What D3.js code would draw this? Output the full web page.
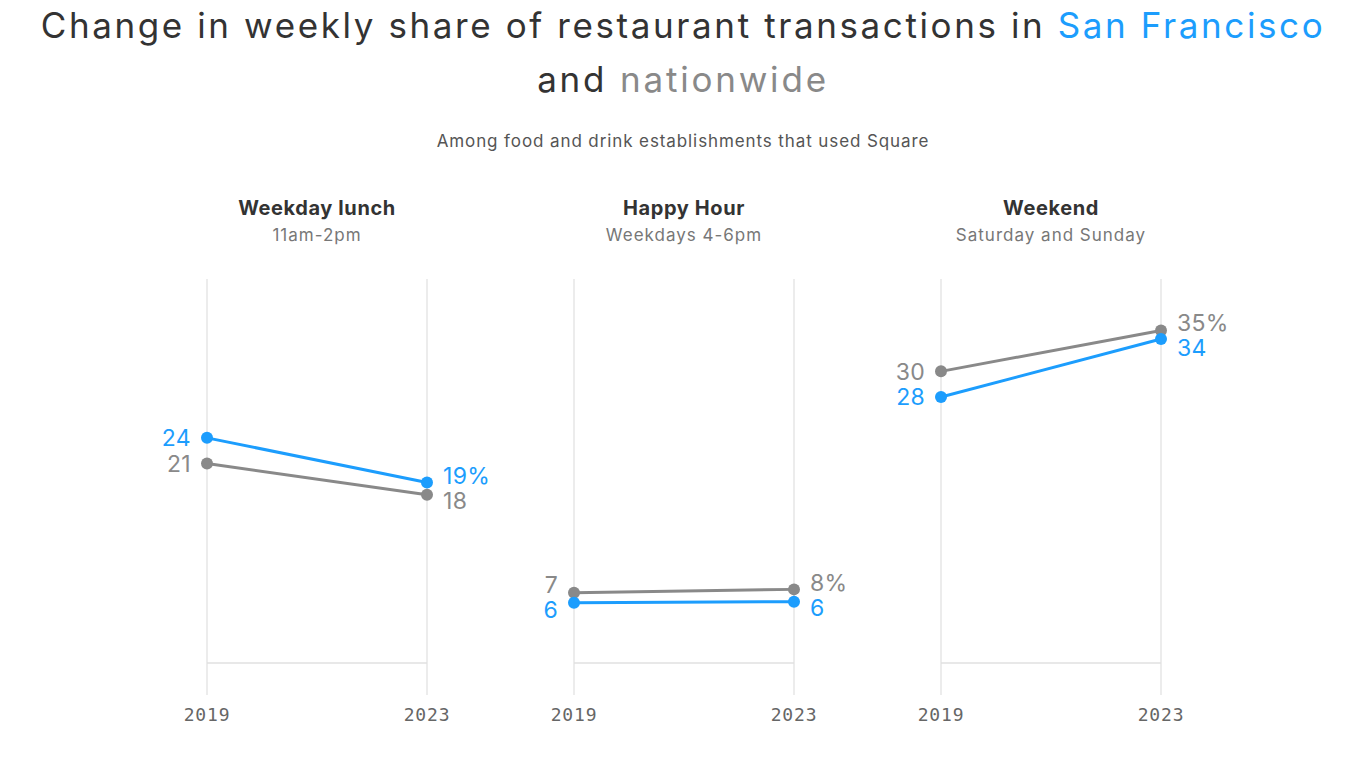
<!DOCTYPE html>
<html>
<head>
  <meta charset="utf-8">
  <title>Change in weekly share of restaurant transactions</title>
  <style>
    body { margin: 0; background: #fff; }
    svg text { font-family: Inter, "Noto Sans", sans-serif; }
  </style>
</head>
<body>
<script src="https://cdnjs.cloudflare.com/ajax/libs/d3/7.8.5/d3.min.js"></script>
<div id="vis"></div>
<script>

var panels = ["Weekday lunch", "Happy Hour", "Weekend"];
var panelNotes = ["11am-2pm", "Weekdays 4-6pm", "Saturday and Sunday"];
var years = ["2019", "2023"];

// share of weekly transactions, %
var sfValues = [[23.7, 19.0], [6.35, 6.45], [28.0, 34.1]];
var usValues = [[21.0, 17.7], [7.4, 7.75], [30.7, 35.0]];
var sfLabels = [["24", "19%"], ["6", "6"], ["28", "34"]];
var usLabels = [["21", "18"], ["7", "8%"], ["30", "35%"]];

var blue = "#1c9dfd", gray = "#898989";
var w = 1366, h = 768;

var svg = d3.select("div#vis").append("svg")
  .attr("width", w)
  .attr("height", h);

// title
var t1 = svg.append("text")
  .attr("x", w / 2).attr("y", 38)
  .attr("text-anchor", "middle")
  .style("font-size", "35px").style("letter-spacing", "2.6px").style("fill", "#333");
t1.append("tspan").text("Change in weekly share of restaurant transactions in ");
t1.append("tspan").style("fill", blue).text("San Francisco");

var t2 = svg.append("text")
  .attr("x", w / 2).attr("y", 92)
  .attr("text-anchor", "middle")
  .style("font-size", "35px").style("letter-spacing", "2.8px").style("fill", "#333");
t2.append("tspan").text("and ");
t2.append("tspan").style("fill", gray).text("nationwide");

svg.append("text")
  .attr("x", w / 2).attr("y", 147)
  .attr("text-anchor", "middle")
  .style("font-size", "17px").style("letter-spacing", "0.9px").style("fill", "#555")
  .text("Among food and drink establishments that used Square");

// scales
var px = d3.scalePoint().domain(panels).range([207, 941]);
var yx = d3.scalePoint().domain(years).range([0, 220]);
var y = d3.scaleLinear().domain([0, 40]).range([663, 283]);

var g = svg.selectAll("g.panel").data(panels).enter().append("g")
  .attr("class", "panel")
  .attr("transform", function(d) { return "translate(" + px(d) + ",0)"; });

g.append("text")
  .attr("x", 110).attr("y", 215)
  .attr("text-anchor", "middle")
  .style("font-size", "20px").style("font-weight", "700")
  .style("letter-spacing", "0.6px").style("fill", "#333")
  .text(function(d) { return d; });

g.append("text")
  .attr("x", 110).attr("y", 241)
  .attr("text-anchor", "middle")
  .style("font-size", "17px").style("letter-spacing", "1px").style("fill", "#777")
  .text(function(d, i) { return panelNotes[i]; });

// grid
g.selectAll("line.v").data(years).enter().append("line")
  .attr("class", "v")
  .attr("x1", function(d) { return yx(d); })
  .attr("x2", function(d) { return yx(d); })
  .attr("y1", y(40) - 4)
  .attr("y2", y(0) + 32)
  .style("stroke", "#e6e6e6").style("stroke-width", 1.5);

g.append("line")
  .attr("x1", yx(years[0])).attr("x2", yx(years[1]))
  .attr("y1", y(0)).attr("y2", y(0))
  .style("stroke", "#e0e0e0").style("stroke-width", 1.5);

g.selectAll("text.year").data(years).enter().append("text")
  .attr("class", "year")
  .attr("x", function(d) { return yx(d); })
  .attr("y", 721)
  .attr("text-anchor", "middle")
  .style("font-family", "'DejaVu Sans Mono', monospace")
  .style("font-size", "18px").style("letter-spacing", "0.8px").style("fill", "#666")
  .text(function(d) { return d; });

var line = d3.line()
  .x(function(d, i) { return yx(years[i]); })
  .y(function(d) { return y(d); });

// label positions, pushed apart when too close
function labelY(a, b) {
  var ya = y(a), yb = y(b), gap = 25;
  if (Math.abs(ya - yb) >= gap) return [ya, yb];
  var m = (ya + yb) / 2, s = ya < yb ? -1 : 1;
  return [m + s * gap / 2, m - s * gap / 2];
}

g.each(function(p, i) {
  var sel = d3.select(this);
  var series = [
    { vals: usValues[i], color: gray },
    { vals: sfValues[i], color: blue }
  ];
  series.forEach(function(s) {
    sel.append("path")
      .attr("d", line(s.vals))
      .style("fill", "none").style("stroke", s.color).style("stroke-width", 3);
    sel.selectAll(null).data(s.vals).enter().append("circle")
      .attr("cx", function(d, j) { return yx(years[j]); })
      .attr("cy", function(d) { return y(d); })
      .attr("r", 6)
      .style("fill", s.color);
  });
  [0, 1].forEach(function(j) {
    var ly = labelY(usValues[i][j], sfValues[i][j]);
    [[usLabels[i][j], gray, ly[0]], [sfLabels[i][j], blue, ly[1]]].forEach(function(l) {
      sel.append("text")
        .attr("x", yx(years[j]) + (j === 0 ? -16 : 16))
        .attr("y", l[2])
        .attr("dy", "0.36em")
        .attr("text-anchor", j === 0 ? "end" : "start")
        .style("font-size", "23px").style("letter-spacing", "0.3px").style("fill", l[1])
        .text(l[0]);
    });
  });
});

</script>
</body>
</html>
